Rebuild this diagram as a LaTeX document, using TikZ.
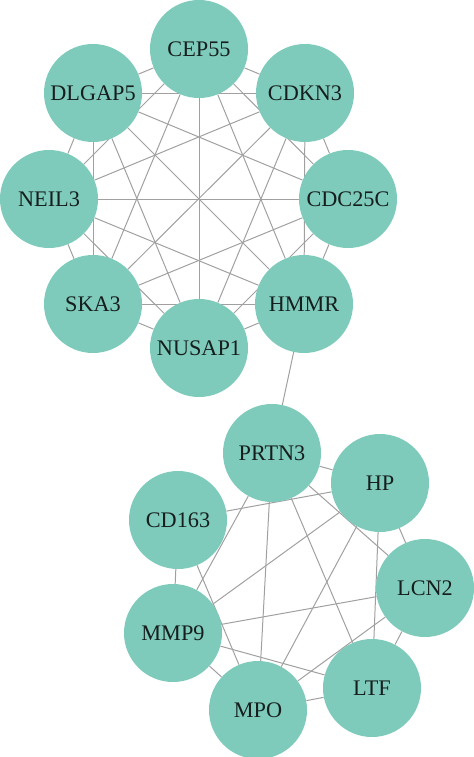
\documentclass[tikz,border=0pt]{standalone}
\usepackage{fontspec}
\setmainfont{Liberation Serif}
\usepackage{xcolor}
\usetikzlibrary{backgrounds}
\definecolor{geneFill}{RGB}{126,203,187}
\definecolor{geneInk}{RGB}{22,30,30}
\definecolor{edgeGray}{RGB}{160,160,160}

\begin{document}
\begin{tikzpicture}[
    x=0.3mm, y=-0.3mm,
    gene/.style={
      circle,
      fill=geneFill,
      text=geneInk,
      inner sep=0pt,
      minimum size=29.4mm,
      font=\fontsize{19}{22}\selectfont
    },
    link/.style={draw=edgeGray, line width=0.85pt}
  ]
    \useasboundingbox (0,0) rectangle (474,757);

    % upper cluster
    \node[gene] (cep)    at (199,49)  {CEP55};
    \node[gene] (cdkn)   at (305,93)  {CDKN3};
    \node[gene] (cdc)    at (348,199) {CDC25C};
    \node[gene] (hmmr)   at (304,304) {HMMR};
    \node[gene] (nusap)  at (199,348) {NUSAP1};
    \node[gene] (ska)    at (93,304)  {SKA3};
    \node[gene] (neil)   at (49,199)  {NEIL3};
    \node[gene] (dlgap)  at (93,93)   {DLGAP5};

    % lower cluster
    \node[gene] (prtn)   at (272,453) {PRTN3};
    \node[gene] (hp)     at (380,483) {HP};
    \node[gene] (cd)     at (178,520) {CD163};
    \node[gene] (lcn)    at (425,588) {LCN2};
    \node[gene] (mmp)    at (173,633) {MMP9};
    \node[gene] (ltf)    at (372,688) {LTF};
    \node[gene] (mpo)    at (258,710) {MPO};

    \begin{scope}[on background layer]
      \foreach \a/\b in {cep/cdkn, cep/cdc, cep/hmmr, cep/nusap, cep/ska, cep/neil, cep/dlgap,
                         cdkn/cdc, cdkn/hmmr, cdkn/nusap, cdkn/ska, cdkn/neil, cdkn/dlgap,
                         cdc/hmmr, cdc/nusap, cdc/ska, cdc/neil, cdc/dlgap,
                         hmmr/nusap, hmmr/ska, hmmr/neil, hmmr/dlgap,
                         nusap/ska, nusap/neil, nusap/dlgap,
                         ska/neil, ska/dlgap,
                         neil/dlgap}
        \draw[link] (\a) -- (\b);

      \draw[link] (hmmr) -- (prtn);

      \foreach \a/\b in {prtn/hp, prtn/mmp, prtn/mpo, prtn/ltf, prtn/lcn,
                         hp/cd, hp/mmp, hp/mpo, hp/ltf, hp/lcn,
                         cd/mmp, cd/mpo,
                         mmp/lcn, mmp/ltf, mmp/mpo,
                         lcn/mpo, lcn/ltf, mpo/ltf}
        \draw[link] (\a) -- (\b);
    \end{scope}
\end{tikzpicture}
\end{document}
